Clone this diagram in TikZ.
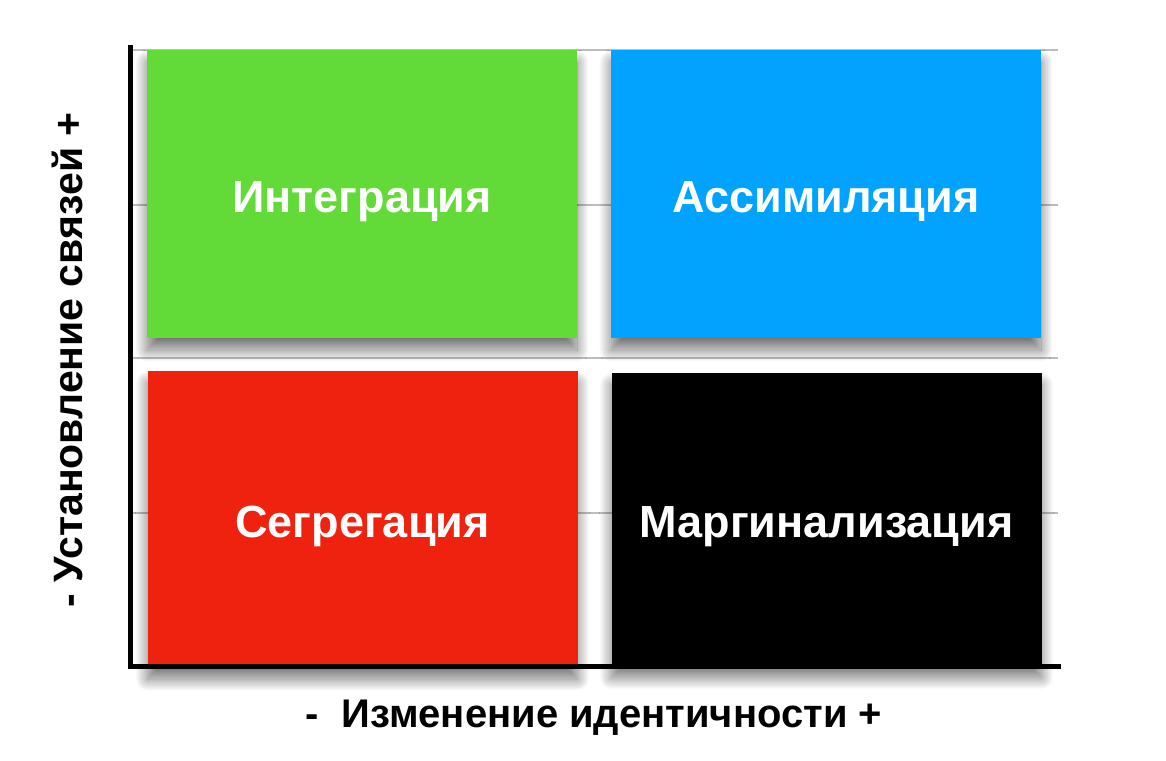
\documentclass[tikz,border=0pt]{standalone}
\usepackage{fontspec}
\setmainfont{Liberation Sans}
\usepackage{xcolor}
\usetikzlibrary{shapes.geometric, arrows, shadows.blur}
\definecolor{intgreen}{HTML}{62DA37}
\definecolor{assblue}{HTML}{02A2FF}
\definecolor{segred}{HTML}{EF220F}
\definecolor{gridgray}{HTML}{BDBDBD}
\tikzstyle{quadrant} = [rectangle, minimum width=430pt, minimum height=288pt, inner sep=0pt, text height=37pt, text depth=0pt, text centered, text=white, font=\bfseries\fontsize{45}{54}\selectfont, blur shadow={shadow xshift=0pt, shadow yshift=-12pt, shadow blur radius=12pt, shadow blur steps=24, shadow opacity=55}]
\tikzstyle{axis} = [line width=5pt, black]
\tikzstyle{gridline} = [line width=1.6pt, gridgray]
\tikzstyle{axislabel} = [font=\bfseries\fontsize{40}{48}\selectfont]

\begin{document}
\begin{tikzpicture}[x=1pt, y=-1pt, node distance=464pt]
    \useasboundingbox (0,0) rectangle (1166,760);
    % grid
    \foreach \y in {50, 205, 358, 513}
        \draw[gridline] (130,\y) -- (1058,\y);
    % quadrants
    \node (integr) [quadrant, fill=intgreen] at (362,194) {Интеграция};
    \node (assim) [quadrant, fill=assblue, right of = integr] {Ассимиляция};
    \node (segreg) [quadrant, fill=segred, minimum height=296pt] at (362.5,519) {Сегрегация};
    \node (margin) [quadrant, fill=black, minimum height=293pt, right of = segreg] {Маргинализация};
    % axes
    \coordinate (ytop) at (130,48);
    \coordinate (origin) at (130,666);
    \coordinate (xend) at (1058,666);
    \draw[axis, line cap=rect] (ytop) -- (origin) -- (xend);
    \node (xlabel) [axislabel] at (594,718) {-~~Изменение идентичности +};
    \node (ylabel) [axislabel, font=\bfseries\fontsize{41}{48}\selectfont, rotate=90] at (67,360) {- Установление связей +};
\end{tikzpicture}
\end{document}
